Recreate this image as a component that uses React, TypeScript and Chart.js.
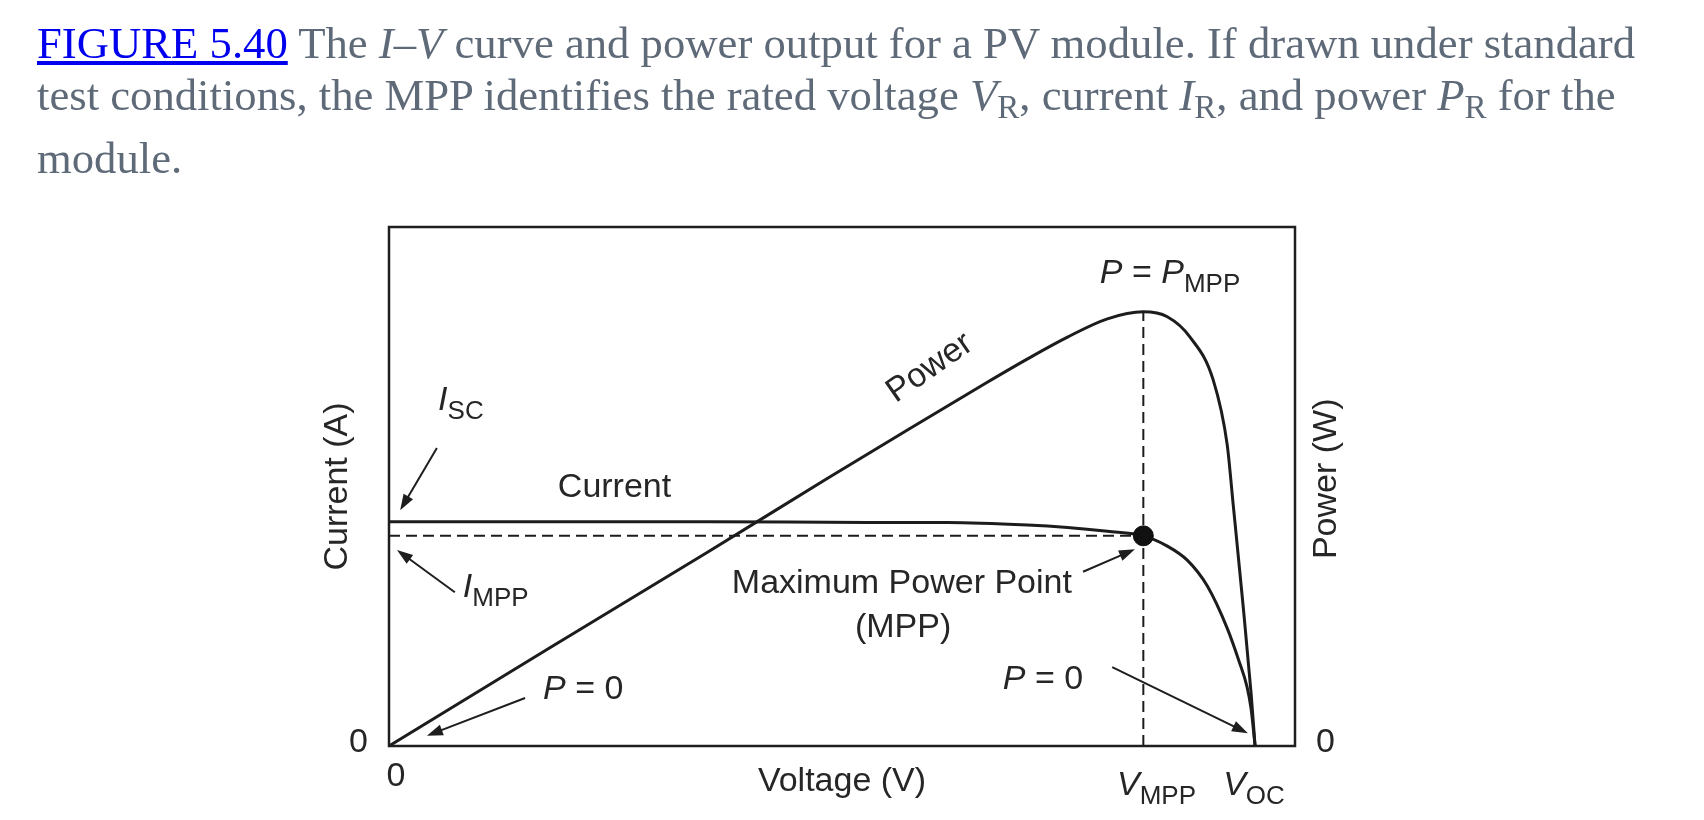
import React, { useEffect, useRef } from "react";
import { Chart, registerables } from "chart.js";

Chart.register(...registerables);

// ---- Data (voltage in V, current in A, power in W) ----
const voltageForCurrent = [0, 4, 8, 12, 14, 16, 17, 18, 18.9, 19.5, 20, 20.5, 21, 21.3, 21.5, 21.6, 21.7];
const currentValues = [3.5, 3.5, 3.5, 3.49, 3.49, 3.45, 3.41, 3.35, 3.28, 3.12, 2.9, 2.5, 1.84, 1.32, 0.92, 0.58, 0];
const voltageForPower = [0, 4, 8, 11, 13, 15, 16, 17, 18, 18.9, 19.5, 20.07, 20.65, 21.0, 21.15, 21.4, 21.6, 21.7];
const powerValues = [0, 13.9, 27.7, 38.2, 45.1, 51.9, 55.2, 58.3, 60.9, 61.9, 61.2, 58.3, 52.2, 43.0, 34.5, 20.0, 7.5, 0];

const V_MPP = 18.9;
const I_MPP = 3.28;
const P_MPP = 61.9;
const V_OC = 21.7;

const X_MAX = 22.7;
const Y_MAX = 8.1;
const Y2_MAX = 74;

const xTickValues = [0];
const yTickValues = [0];
const y2TickValues = [0];

// ---- styling ----
const FONT = '"Liberation Sans", Arial, Helvetica, sans-serif';
const SIZE = 34;
const SUB = 26;
const SUB_DY = 9;
const INK = "#262626";

type Part = { t: string; it?: boolean; sub?: boolean };
type Label = {
  parts: Part[];
  v: number; // anchor voltage
  i: number; // anchor in current units
  align: "left" | "center";
  base?: "alphabetic" | "middle";
  rot?: number;
};

const labels: Label[] = [
  { parts: [{ t: "I", it: true }, { t: "SC", sub: true }], v: 1.23, i: 5.24, align: "left" },
  { parts: [{ t: "Current" }], v: 4.23, i: 3.89, align: "left" },
  { parts: [{ t: "Power" }], v: 13.55, i: 5.9, align: "center", base: "middle", rot: -35 },
  {
    parts: [{ t: "P", it: true }, { t: " = " }, { t: "P", it: true }, { t: "MPP", sub: true }],
    v: 17.81,
    i: 7.23,
    align: "left",
  },
  { parts: [{ t: "I", it: true }, { t: "MPP", sub: true }], v: 1.85, i: 2.33, align: "left" },
  { parts: [{ t: "Maximum Power Point" }], v: 12.85, i: 2.39, align: "center" },
  { parts: [{ t: "(MPP)" }], v: 12.88, i: 1.7, align: "center" },
  { parts: [{ t: "P", it: true }, { t: " = 0" }], v: 3.86, i: 0.73, align: "left" },
  { parts: [{ t: "P", it: true }, { t: " = 0" }], v: 15.38, i: 0.89, align: "left" },
  { parts: [{ t: "V", it: true }, { t: "MPP", sub: true }], v: 18.24, i: -0.76, align: "left" },
  { parts: [{ t: "V", it: true }, { t: "OC", sub: true }], v: 20.9, i: -0.76, align: "left" },
  { parts: [{ t: "Power (W)" }], v: 23.5, i: 4.17, align: "center", base: "middle", rot: -90 },
];

const arrows: { from: [number, number]; to: [number, number] }[] = [
  { from: [1.2, 4.65], to: [0.28, 3.68] },
  { from: [1.65, 2.4], to: [0.2, 3.06] },
  { from: [3.41, 0.75], to: [0.95, 0.16] },
  { from: [17.39, 2.72], to: [18.69, 3.07] },
  { from: [18.12, 1.23], to: [21.52, 0.2] },
];

function fontFor(p: Part) {
  return `${p.it ? "italic " : ""}${p.sub ? SUB : SIZE}px ${FONT}`;
}

const overlay = {
  id: "overlay",
  afterDraw(chart: any) {
    const { ctx, chartArea: a, scales } = chart;
    const sx = scales.x;
    const sy = scales.y;
    ctx.save();
    // frame
    ctx.strokeStyle = "#1e1e1e";
    ctx.lineWidth = 2.5;
    ctx.strokeRect(a.left, a.top, a.right - a.left, a.bottom - a.top);

    // arrows
    ctx.fillStyle = "#1e1e1e";
    for (const ar of arrows) {
      const x1 = sx.getPixelForValue(ar.from[0]);
      const y1 = sy.getPixelForValue(ar.from[1]);
      const x2 = sx.getPixelForValue(ar.to[0]);
      const y2 = sy.getPixelForValue(ar.to[1]);
      const ang = Math.atan2(y2 - y1, x2 - x1);
      const c = Math.cos(ang);
      const s = Math.sin(ang);
      const head = 16;
      const hw = 5.5;
      ctx.lineWidth = 2;
      ctx.beginPath();
      ctx.moveTo(x1, y1);
      ctx.lineTo(x2 - c * head * 0.8, y2 - s * head * 0.8);
      ctx.stroke();
      const bx = x2 - c * head;
      const by = y2 - s * head;
      ctx.beginPath();
      ctx.moveTo(x2, y2);
      ctx.lineTo(bx - s * hw, by + c * hw);
      ctx.lineTo(bx + s * hw, by - c * hw);
      ctx.closePath();
      ctx.fill();
    }

    // labels
    ctx.fillStyle = INK;
    ctx.textAlign = "left";
    for (const lb of labels) {
      const x = sx.getPixelForValue(lb.v);
      const y = sy.getPixelForValue(lb.i);
      let w = 0;
      for (const p of lb.parts) {
        ctx.font = fontFor(p);
        w += ctx.measureText(p.t).width;
      }
      ctx.save();
      ctx.translate(x, y);
      if (lb.rot) ctx.rotate((lb.rot * Math.PI) / 180);
      ctx.textBaseline = lb.base || "alphabetic";
      let cx = lb.align === "center" ? -w / 2 : 0;
      for (const p of lb.parts) {
        ctx.font = fontFor(p);
        ctx.fillText(p.t, cx, p.sub ? SUB_DY : 0);
        cx += ctx.measureText(p.t).width;
      }
      ctx.restore();
    }
    ctx.restore();
  },
};

export default function App() {
  const ref = useRef<HTMLCanvasElement | null>(null);

  useEffect(() => {
    const canvas = ref.current;
    if (!canvas) return;
    const line = "#1c1c1c";
    const chart = new Chart(canvas, {
      type: "line",
      data: {
        datasets: [
          {
            label: "MPP",
            data: [{ x: V_MPP, y: I_MPP }],
            yAxisID: "y",
            showLine: false,
            pointRadius: 10,
            pointBackgroundColor: "#111",
            pointBorderColor: "#111",
            clip: false,
          } as any,
          {
            label: "Current",
            data: voltageForCurrent.map((v, k) => ({ x: v, y: currentValues[k] })),
            yAxisID: "y",
            borderColor: line,
            borderWidth: 3,
            pointRadius: 0,
            cubicInterpolationMode: "monotone",
            fill: false,
            clip: 4,
          },
          {
            label: "Power",
            data: voltageForPower.map((v, k) => ({ x: v, y: powerValues[k] })),
            yAxisID: "y2",
            borderColor: line,
            borderWidth: 3,
            pointRadius: 0,
            cubicInterpolationMode: "monotone",
            fill: false,
            clip: 4,
          },
          {
            label: "IMPP",
            data: [
              { x: 0, y: I_MPP },
              { x: V_MPP, y: I_MPP },
            ],
            yAxisID: "y",
            borderColor: line,
            borderWidth: 2,
            borderDash: [11, 6],
            pointRadius: 0,
            fill: false,
          },
          {
            label: "VMPP",
            data: [
              { x: V_MPP, y: 0 },
              { x: V_MPP, y: P_MPP },
            ],
            yAxisID: "y2",
            borderColor: line,
            borderWidth: 2,
            borderDash: [11, 6],
            pointRadius: 0,
            fill: false,
          },
        ],
      },
      options: {
        animation: false,
        responsive: false,
        devicePixelRatio: 1,
        layout: { padding: { left: 317, right: 300, top: 227, bottom: 18 } },
        plugins: { legend: { display: false }, tooltip: { enabled: false } },
        scales: {
          x: {
            type: "linear",
            min: 0,
            max: X_MAX,
            grid: { display: false, drawTicks: false },
            border: { display: false },
            afterBuildTicks: (s: any) => {
              s.ticks = xTickValues.map((value) => ({ value }));
            },
            afterFit: (s: any) => {
              s.height = 56;
            },
            ticks: {
              padding: 10,
              labelOffset: 7,
              color: INK,
              font: { family: FONT, size: SIZE },
              maxRotation: 0,
              callback: (v: any) => String(v),
            },
            title: {
              display: true,
              text: "Voltage (V)",
              color: INK,
              font: { family: FONT, size: SIZE },
              padding: 0,
            },
          },
          y: {
            type: "linear",
            position: "left",
            min: 0,
            max: Y_MAX,
            grid: { display: false, drawTicks: false },
            border: { display: false },
            afterBuildTicks: (s: any) => {
              s.ticks = yTickValues.map((value) => ({ value }));
            },
            afterFit: (s: any) => {
              s.width = 72;
            },
            ticks: {
              padding: 21,
              labelOffset: -3,
              color: INK,
              font: { family: FONT, size: SIZE },
              callback: (v: any) => String(v),
            },
            title: {
              display: true,
              text: "Current (A)",
              color: INK,
              font: { family: FONT, size: SIZE },
              padding: 0,
            },
          },
          y2: {
            type: "linear",
            position: "right",
            min: 0,
            max: Y2_MAX,
            grid: { display: false, drawTicks: false },
            border: { display: false },
            afterBuildTicks: (s: any) => {
              s.ticks = y2TickValues.map((value) => ({ value }));
            },
            afterFit: (s: any) => {
              s.width = 109;
            },
            ticks: {
              padding: 21,
              labelOffset: -3,
              color: INK,
              font: { family: FONT, size: SIZE },
              callback: (v: any) => String(v),
            },
          },
        },
      } as any,
      plugins: [overlay],
    });
    return () => chart.destroy();
  }, []);

  const cap: React.CSSProperties = {
    position: "absolute",
    left: 37,
    whiteSpace: "nowrap",
    fontFamily: '"Liberation Serif", "Times New Roman", serif',
    fontSize: 44.7,
    lineHeight: "44.7px",
    color: "#5f6a79",
  };
  const sub: React.CSSProperties = { fontSize: "0.74em", verticalAlign: "-0.24em", lineHeight: 0 };

  return (
    <div
      style={{
        position: "absolute",
        left: 0,
        top: 0,
        width: 1704,
        height: 820,
        background: "#ffffff",
        overflow: "hidden",
      }}
    >
      <canvas
        ref={ref}
        width={1704}
        height={820}
        style={{ position: "absolute", left: 0, top: 0, width: 1704, height: 820 }}
      />
      <div style={{ ...cap, top: 20.6 }}>
        <a href="#" style={{ color: "#0000ee", textDecoration: "underline" }}>
          FIGURE 5.40
        </a>{" "}
        The <i>I–V</i> curve and power output for a PV module. If drawn under standard
      </div>
      <div style={{ ...cap, top: 72.6 }}>
        test conditions, the MPP identifies the rated voltage <i>V</i>
        <span style={sub}>R</span>, current <i>I</i>
        <span style={sub}>R</span>, and power <i>P</i>
        <span style={sub}>R</span> for the
      </div>
      <div style={{ ...cap, top: 135.6 }}>module.</div>
    </div>
  );
}
